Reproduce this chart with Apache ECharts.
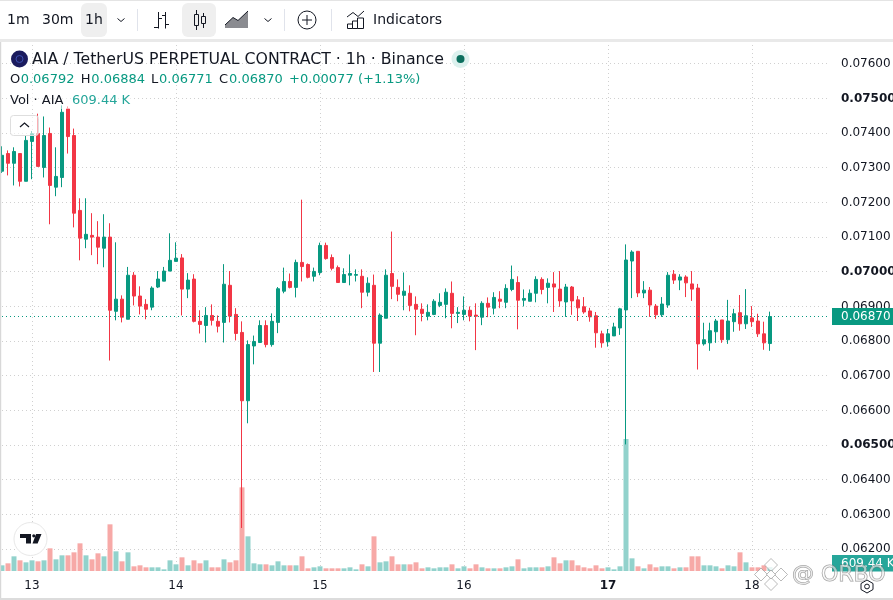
<!DOCTYPE html>
<html><head><meta charset="utf-8">
<style>html,body{margin:0;padding:0;background:#fff}#c{width:893px;height:600px}</style>
<script src="https://cdn.jsdelivr.net/npm/echarts@6/dist/echarts.min.js"></script>
</head><body><div id="c"></div>
<script>
const opens=[.07289,.07340,.07312,.07340,.07260,.07375,.07398,.07300,.07398,.07243,.07271,.07469,.07392,.07176,.07093,.07104,.07099,.07067,.07099,.06885,.06920,.06862,.06989,.06929,.06905,.06897,.06955,.06972,.07001,.07029,.07039,.06949,.06978,.06856,.06844,.06873,.06856,.06853,.06960,.06876,.06824,.06627,.06785,.06795,.06844,.06789,.06853,
.06943,.06971,.06954,.07026,.07020,.06986,.06997,.07075,.07040,.07011,.06968,.06989,.06989,.06986,.06940,.06960,.06793,.06865,.06994,.06954,.06931,.06937,.06905,.06891,.06871,.06876,.06902,.06905,.06937,.06879,.06876,.06888,.06874,.06868,.06908,.06894,.06920,.06911,.06948,.06968,.06917,.06914,.06937,.06977,.06954,
.06964,.06949,.06912,.06955,.06918,.06898,.06886,.06872,.06820,.06797,.06814,.06837,.06889,.07030,.07058,.06938,.06946,.06900,.06875,.06903,.06992,.06975,.06984,.06964,.06952,.06791,.06794,.06826,.06860,.06803,.06855,.06881,.06849,.06866,.06857,.06820,.06792];
const closes=[.07335,.07312,.07346,.07260,.07378,.07397,.07303,.07392,.07248,.07274,.07459,.07389,.07168,.07096,.07107,.07099,.07070,.07099,.06888,.06920,.06868,.06989,.06929,.06900,.06891,.06952,.06978,.07001,.07032,.07038,.06949,.06975,.06856,.06847,.06873,.06859,.06842,.06963,.06871,.06821,.06627,.06789,.06798,.06844,.06789,.06856,.06950,
.06971,.06954,.07026,.07014,.06983,.07000,.07075,.07037,.07009,.06968,.06991,.06994,.06991,.06940,.06966,.06793,.06874,.06989,.06957,.06934,.06943,.06902,.06891,.06879,.06882,.06914,.06911,.06940,.06879,.06882,.06888,.06871,.06871,.06908,.06897,.06925,.06914,.06951,.06977,.06917,.06922,.06937,.06977,.06948,.06966,
.06955,.06915,.06955,.06915,.06895,.06883,.06869,.06823,.06794,.06820,.06840,.06892,.07033,.07056,.06938,.06946,.06903,.06875,.06906,.06989,.06975,.06984,.06967,.06949,.06791,.06803,.06829,.06857,.06803,.06857,.06878,.06849,.06872,.06855,.06820,.06794,.06870];
const highs=[.07361,.07349,.07358,.07340,.07392,.07405,.07455,.07447,.07415,.07358,.07479,.07476,.07412,.07211,.07211,.07168,.07145,.07165,.07139,.07084,.06931,.07013,.06998,.06957,.06920,.06957,.07001,.07013,.07110,.07084,.07050,.06995,.06992,.06888,.06897,.06905,.06873,.07021,.07001,.06894,.06856,.06801,.06815,.06859,.06859,.06879,.06955,
.07011,.06994,.07034,.07207,.07023,.07011,.07083,.07083,.07049,.07017,.07009,.07049,.07006,.07006,.06983,.06991,.06879,.07006,.07115,.06977,.06997,.06960,.06928,.06908,.06905,.06920,.06937,.06951,.06971,.06897,.06928,.06899,.06908,.06914,.06925,.06940,.06943,.06963,.07017,.06986,.06948,.06948,.06986,.06983,.06980,
.06998,.07001,.06964,.06958,.06929,.06926,.06895,.06883,.06829,.06834,.06852,.06895,.07078,.07061,.07058,.06972,.06955,.06906,.06926,.06998,.07004,.06992,.06989,.07001,.06964,.06852,.06852,.06863,.06860,.06918,.06892,.06932,.06949,.06900,.06878,.06855,.06884];
const lows=[.07284,.07277,.07248,.07245,.07260,.07266,.07303,.07271,.07136,.07217,.07243,.07340,.07127,.07032,.07067,.07047,.07021,.07012,.06743,.06859,.06853,.06862,.06902,.06876,.06862,.06888,.06952,.06972,.07001,.07029,.06873,.06923,.06853,.06821,.06795,.06844,.06824,.06795,.06853,.06801,.06260,.06562,.06732,.06795,.06781,.06783,.06822,
.06937,.06951,.06925,.06971,.06980,.06971,.06989,.07034,.07003,.06968,.06968,.06960,.06971,.06894,.06928,.06710,.06710,.06865,.06920,.06914,.06888,.06885,.06816,.06856,.06859,.06874,.06897,.06865,.06836,.06851,.06859,.06856,.06773,.06845,.06868,.06876,.06894,.06894,.06943,.06833,.06899,.06914,.06911,.06934,.06908,
.06883,.06898,.06869,.06875,.06857,.06878,.06855,.06780,.06780,.06783,.06814,.06817,.06501,.06923,.06926,.06923,.06869,.06863,.06869,.06895,.06964,.06946,.06926,.06915,.06717,.06786,.06771,.06794,.06794,.06791,.06826,.06829,.06834,.06840,.06811,.06774,.06771];
const volumes=[850,1150,2200,1600,1300,1600,1450,1600,3400,1750,2350,2350,2800,4150,2350,1750,2650,2200,7000,2950,1450,2800,700,850,550,550,550,250,1600,1000,2050,850,1600,1150,1600,550,550,1750,1300,1600,12550,5200,1150,1000,1000,850,1450,850,850,850,
2200,400,550,700,400,400,400,400,550,250,1000,700,5200,1300,1450,2200,1000,1000,1000,1300,400,550,400,550,550,1000,400,700,400,1000,550,400,400,400,550,700,1750,400,550,550,550,700,2050,1150,1600,1600,850,550,400,850,
400,550,250,700,19800,1900,700,400,1000,550,700,700,400,550,550,2200,2200,850,850,700,400,850,700,2800,1300,550,550,850,609.44];
const priceTicks={min:0.062,max:0.076,interval:0.001};
const dayLabels={5:'13',29:'14',53:'15',77:'16',101:'17',125:'18'};
const boldDay='17';
const lastClose=0.0687;
const lastVolumeText='609.44 K';
const titleText='AIA / TetherUS PERPETUAL CONTRACT · 1h · Binance';
const ohlcRow=[['O',10,'#131722'],['0.06792',20.7,'#089981'],['H',80.7,'#131722'],['0.06884',91.3,'#089981'],['L',151,'#131722'],['0.06771',159,'#089981'],['C',219,'#131722'],['0.06870',229,'#089981'],['+0.00077',289,'#089981'],['(+1.13%)',358,'#089981']];

const GREEN='#089981',RED='#F23645',INK='#131722',GRIDC='#d0d0d0',FONT='"DejaVu Sans"';
const categories=[];for(let i=0;i<139;i++)categories.push(dayLabels[i]||('h'+i));
const candleData=opens.map((o,i)=>[o,closes[i],lows[i],highs[i]]);
const volData=volumes.map((v,i)=>({value:v,itemStyle:{color:closes[i]>=opens[i]?'#92d2cc':'#f7a9a7'}}));

const T=(text,x,y,size,fill,extra)=>({type:'text',z:100,silent:true,style:Object.assign({text,x,y,font:(size+'px '+FONT),fill,textVerticalAlign:'middle'},extra||{})});
const L=(pts,stroke,w,fill)=>({type:fill?'polygon':'polyline',z:100,silent:true,shape:{points:pts},style:{stroke:stroke,lineWidth:w||1,fill:fill||null}});
const R=(x,y,w,h,fill,r,stroke)=>({type:'rect',z:100,silent:true,shape:{x,y,width:w,height:h,r:r||0},style:{fill,stroke:stroke||null,lineWidth:1}});
const C=(cx,cy,r,fill,stroke,w)=>({type:'circle',z:100,silent:true,shape:{cx,cy,r},style:{fill:fill||null,stroke:stroke||null,lineWidth:w||1}});

const chrome=[
 R(0,0,893,39,'#fff'),R(0,39,893,3,'#e9e9e9'),R(0,0,893,1,'#e4e4e4'),R(0,42,1.2,558,'#d8d8d8'),R(0,598,893,2,'#dcdcdc'),
 T('1m',7,20,14,INK),T('30m',42,20,14,INK),R(81,3,26,34,'#efefef',6),T('1h',85,20,14,INK),
 L([[117.5,18.5],[121,21.5],[124.5,18.5]],INK,1),
 L([[137.5,9],[137.5,31]],'#e0e3eb',1),
 L([[158.5,12],[158.5,28.5]],INK,1),L([[154,27.5],[158.5,27.5]],INK,1),L([[158.5,18.5],[162,18.5]],INK,1),
 L([[165.5,12],[165.5,28.5]],INK,1),L([[162,15.5],[165.5,15.5]],INK,1),L([[165.5,24.5],[169,24.5]],INK,1),
 R(182,3,34,34,'#efefef',6),
 L([[196.5,10],[196.5,30]],INK,1),R(194.5,14.5,4,11,'#efefef',0,INK),
 L([[203.5,13],[203.5,28]],INK,1),R(201.5,16.5,4,7,'#efefef',0,INK),
 L([[225,28],[225,25],[233,17.5],[238,20.5],[248,11],[248,28]],null,1,'#8a8b90'),L([[225,25],[233,17.5],[238,20.5],[248,11]],INK,1),
 L([[264.5,18.5],[268,21.5],[271.5,18.5]],INK,1),
 L([[284.5,9],[284.5,31]],'#e0e3eb',1),
 C(307,20,9,null,INK,1),L([[302,20],[312,20]],INK,1),L([[307,15],[307,25]],INK,1),
 L([[331.5,9],[331.5,31]],'#e0e3eb',1),
 L([[347,17],[353,12.5],[358,16.5],[364,11]],INK,1),R(347.5,24,5,4.5,'#fff',0,INK),R(352.5,21,5,7.5,'#fff',0,INK),R(357.5,18,6,10.5,'#fff',0,INK),
 T('Indicators',373,20,14,INK),
 C(19.5,59,8.5,'#1b1b5e'),C(19.5,59,3.5,null,'#3c4fb0',1),
 T(titleText,32,59.5,15.75,INK),
 C(460.5,59,9,'#dcf1ee'),C(460.5,59,4,'#0b6f5e'),
 R(8,92,125,17,'rgba(255,255,255,0.55)'),
 T('Vol · AIA',10,100.5,13,INK),T('609.44 K',72,100.5,13,'#26a69a'),
 R(10.5,115.5,28,20,'rgba(255,255,255,0.6)',3,'#dedede'),L([[20,127],[24.5,123],[29,127]],INK,1.2),
 C(30.5,539,16.5,'#fff','#e8e8e8',1),
 L([[20,534],[31,534],[31,543.5],[26,543.5],[26,538],[20,538]],null,1,INK),
 L([[32.5,543.5],[36.1,534],[41.5,534],[37.6,543.5]],null,1,INK),
 C(33.8,535.8,1.6,INK),
 R(832,555,61,16.5,'#26a69a'),T(lastVolumeText,841,563.5,12,'#fff'),
 L([[867,580],[873,583.5],[873,589.5],[867,593],[861,589.5],[861,583.5]],INK,1,'#fff'),C(867,586.5,2.4,'#fff',INK,1),
];
ohlcRow.forEach(r=>chrome.push(T(r[0],r[1],80,13,r[2])));
[[771,565,6.5],[771,584,6.5],[761,574.5,6.5],[781,574.5,6.5],[771,574.5,4.5]].forEach(d=>{
 chrome.push(L([[d[0],d[1]-d[2]],[d[0]+d[2],d[1]],[d[0],d[1]+d[2]],[d[0]-d[2],d[1]]],'rgba(140,140,140,0.6)',1,'rgba(255,255,255,0.8)'));
});
chrome.push(T('@ ORBO',792,575,22,'rgba(255,255,255,0.55)',{stroke:'rgba(110,110,110,0.7)',lineWidth:1}));

const chart=echarts.init(document.getElementById('c'),null,{renderer:'canvas',width:893,height:600});
const isDay=i=>dayLabels[i]!==undefined;
chart.setOption({
 animation:false,backgroundColor:'#fff',
 grid:[{left:2,width:828,top:63.41,height:485.38,outerBoundsMode:'none'},{left:2,width:828,top:41,height:530,outerBoundsMode:'none'}],
 xAxis:[
  {type:'category',gridIndex:0,data:categories,boundaryGap:false,show:false},
  {type:'category',gridIndex:1,data:categories,boundaryGap:false,axisLine:{show:false},axisTick:{show:false},
   axisLabel:{interval:isDay,margin:9,fontFamily:FONT,fontSize:12,color:INK,
     formatter:v=>v===boldDay?'{b|'+v+'}':v,rich:{b:{fontFamily:FONT,fontSize:12,fontWeight:'bold',color:INK}}},
   splitLine:{show:true,interval:isDay,lineStyle:{color:GRIDC,width:1,type:[1,3]}}}
 ],
 yAxis:[
  {type:'value',gridIndex:0,position:'right',min:priceTicks.min,max:priceTicks.max,interval:priceTicks.interval,scale:true,
   axisLine:{show:false},axisTick:{show:false},
   axisLabel:{margin:11,padding:[1,0,0,0],fontFamily:FONT,fontSize:12,color:INK,
    formatter:v=>{const s=v.toFixed(5);return Math.round(v*1e5)%500===0?'{b|'+s+'}':s;},
    rich:{b:{fontFamily:FONT,fontSize:12,fontWeight:'bold',color:INK}}},
   splitLine:{show:true,lineStyle:{color:GRIDC,width:1,type:[1,3]}}},
  {type:'value',gridIndex:1,min:0,max:79500,show:false,splitLine:{show:false}}
 ],
 series:[
  {type:'bar',xAxisIndex:1,yAxisIndex:1,data:volData,barWidth:5,clip:false,z:1,silent:true},
  {type:'candlestick',xAxisIndex:0,yAxisIndex:0,data:candleData,barWidth:4,clip:false,z:3,silent:true,
   itemStyle:{color:GREEN,color0:RED,borderColor:GREEN,borderColor0:RED,borderWidth:1},
   markLine:{silent:true,symbol:'none',animation:false,precision:5,
    lineStyle:{color:GREEN,width:1,type:[1,3]},
    label:{show:true,position:'end',distance:2,formatter:()=>lastClose.toFixed(5),fontFamily:FONT,fontSize:12,color:'#fff',backgroundColor:GREEN,padding:[2,3,2,9],lineHeight:13},
    data:[{yAxis:lastClose}]}}
 ],
 graphic:{elements:chrome}
});
</script></body></html>
